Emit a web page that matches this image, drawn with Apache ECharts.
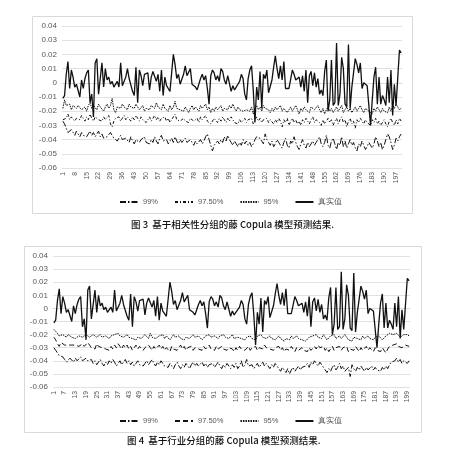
<!DOCTYPE html>
<html><head><meta charset="utf-8">
<script src="https://cdn.jsdelivr.net/npm/echarts@6/dist/echarts.min.js"></script>
<style>html,body{margin:0;padding:0;background:#fff;}#c1{position:absolute;left:0;top:0;width:453px;height:230px;}#c2{position:absolute;left:0;top:230px;width:453px;height:220px;}</style>
</head><body>
<div id="c1"></div><div id="c2"></div>
<script>
// ---- data ----
var categories = [];
for (var k = 1; k <= 200; k++) categories.push(String(k));
var legendNames = ['99%', '97.50%', '95%', '真实值'];
var yTicks = [0.04, 0.03, 0.02, 0.01, 0, -0.01, -0.02, -0.03, -0.04, -0.05, -0.06];

var actual = [
-0.011,-0.009,0.006,0.015,-0.004,0.009,0.004,-0.003,-0.001,0.000,
-0.010,0.002,-0.004,0.003,0.007,0.009,-0.014,-0.008,-0.024,0.014,
0.017,-0.008,-0.009,0.014,-0.003,0.010,0.002,0.004,-0.001,0.001,
-0.003,-0.002,0.001,-0.003,0.014,-0.002,-0.001,0.004,0.010,0.003,
0.002,-0.006,-0.009,0.011,-0.014,0.009,0.005,-0.002,0.006,0.005,
0.007,-0.005,0.004,0.008,0.009,0.001,0.006,-0.006,0.009,-0.009,
0.004,-0.002,-0.004,-0.006,-0.007,0.020,0.013,0.003,0.006,-0.001,
0.000,0.006,0.012,0.005,0.004,0.010,-0.001,-0.002,-0.003,-0.005,
-0.006,0.003,0.006,0.002,0.005,-0.004,-0.015,0.005,0.009,0.007,
0.002,0.005,0.001,0.010,0.008,0.002,-0.001,0.005,0.004,-0.006,
-0.002,-0.005,-0.004,-0.001,0.001,0.006,0.003,-0.008,-0.012,0.003,
0.009,0.012,-0.005,-0.028,-0.003,-0.012,0.008,-0.018,0.006,0.003,
0.009,-0.007,-0.006,0.002,0.011,0.019,0.010,0.003,0.012,0.002,
0.015,-0.004,-0.003,-0.004,-0.003,0.009,0.006,0.002,0.001,0.004,
-0.003,0.005,-0.006,0.009,-0.014,0.005,0.008,-0.002,0.007,-0.003,
0.003,-0.008,-0.005,-0.009,0.008,0.016,-0.020,-0.012,0.016,-0.016,
-0.014,0.028,-0.016,-0.008,0.018,0.010,-0.015,-0.017,0.027,-0.018,
-0.003,-0.004,0.017,0.013,0.007,0.014,-0.004,0.000,-0.001,-0.002,
-0.003,-0.030,-0.012,0.004,0.011,-0.015,0.004,-0.015,-0.009,-0.012,
-0.016,0.004,-0.014,0.009,-0.023,-0.001,-0.016,-0.015,0.023,0.021
];

// Figure 3 (correlation grouping)
var corr95 = [
-0.018,-0.012,-0.016,-0.017,-0.015,-0.019,-0.016,-0.017,-0.018,-0.016,
-0.015,-0.019,-0.018,-0.017,-0.020,-0.016,-0.014,-0.018,-0.016,-0.017,
-0.019,-0.015,-0.017,-0.016,-0.020,-0.017,-0.015,-0.018,-0.016,-0.011,
-0.019,-0.021,-0.017,-0.016,-0.018,-0.015,-0.017,-0.016,-0.019,-0.015,
-0.017,-0.016,-0.018,-0.015,-0.017,-0.019,-0.018,-0.016,-0.020,-0.018,
-0.017,-0.019,-0.016,-0.015,-0.018,-0.014,-0.017,-0.016,-0.019,-0.015,
-0.018,-0.017,-0.020,-0.016,-0.019,-0.017,-0.013,-0.018,-0.017,-0.019,
-0.018,-0.020,-0.017,-0.019,-0.021,-0.018,-0.016,-0.019,-0.017,-0.018,
-0.020,-0.016,-0.018,-0.017,-0.015,-0.019,-0.017,-0.021,-0.018,-0.020,
-0.017,-0.019,-0.018,-0.016,-0.020,-0.018,-0.017,-0.019,-0.016,-0.018,
-0.015,-0.018,-0.020,-0.017,-0.019,-0.018,-0.020,-0.021,-0.019,-0.018,
-0.020,-0.017,-0.022,-0.018,-0.016,-0.019,-0.017,-0.020,-0.016,-0.018,
-0.017,-0.019,-0.021,-0.018,-0.020,-0.017,-0.019,-0.018,-0.016,-0.020,
-0.018,-0.017,-0.021,-0.019,-0.017,-0.020,-0.018,-0.016,-0.019,-0.022,
-0.018,-0.020,-0.017,-0.019,-0.018,-0.021,-0.017,-0.016,-0.019,-0.018,
-0.016,-0.019,-0.021,-0.018,-0.022,-0.019,-0.017,-0.020,-0.018,-0.021,
-0.019,-0.017,-0.020,-0.018,-0.016,-0.021,-0.019,-0.017,-0.020,-0.018,
-0.021,-0.019,-0.017,-0.020,-0.018,-0.016,-0.019,-0.021,-0.018,-0.017,
-0.020,-0.019,-0.022,-0.018,-0.020,-0.017,-0.019,-0.021,-0.018,-0.020,
-0.019,-0.021,-0.017,-0.020,-0.016,-0.018,-0.015,-0.017,-0.019,-0.018
];
var corr975 = [
-0.026,-0.027,-0.025,-0.022,-0.026,-0.024,-0.023,-0.027,-0.025,-0.024,
-0.026,-0.023,-0.025,-0.027,-0.024,-0.026,-0.022,-0.025,-0.027,-0.024,
-0.023,-0.026,-0.025,-0.027,-0.024,-0.026,-0.025,-0.023,-0.029,-0.031,
-0.027,-0.025,-0.026,-0.024,-0.027,-0.025,-0.023,-0.026,-0.024,-0.025,
-0.027,-0.024,-0.026,-0.023,-0.025,-0.027,-0.024,-0.026,-0.025,-0.028,
-0.026,-0.024,-0.027,-0.025,-0.023,-0.026,-0.024,-0.027,-0.025,-0.026,
-0.024,-0.027,-0.025,-0.028,-0.026,-0.024,-0.022,-0.026,-0.025,-0.027,
-0.028,-0.025,-0.027,-0.026,-0.028,-0.025,-0.024,-0.027,-0.026,-0.025,
-0.028,-0.024,-0.026,-0.025,-0.023,-0.027,-0.026,-0.029,-0.027,-0.025,
-0.026,-0.028,-0.025,-0.027,-0.024,-0.026,-0.028,-0.025,-0.027,-0.024,
-0.026,-0.028,-0.027,-0.029,-0.026,-0.028,-0.027,-0.025,-0.028,-0.026,
-0.027,-0.025,-0.029,-0.026,-0.024,-0.027,-0.025,-0.028,-0.026,-0.027,
-0.025,-0.028,-0.026,-0.027,-0.029,-0.026,-0.028,-0.025,-0.027,-0.031,
-0.026,-0.028,-0.025,-0.030,-0.027,-0.025,-0.028,-0.026,-0.029,-0.027,
-0.030,-0.026,-0.028,-0.025,-0.027,-0.029,-0.026,-0.024,-0.028,-0.026,
-0.025,-0.028,-0.030,-0.026,-0.029,-0.027,-0.025,-0.028,-0.026,-0.030,
-0.027,-0.025,-0.029,-0.026,-0.024,-0.028,-0.026,-0.031,-0.027,-0.025,
-0.029,-0.027,-0.032,-0.026,-0.028,-0.025,-0.027,-0.029,-0.026,-0.028,
-0.027,-0.030,-0.026,-0.028,-0.025,-0.029,-0.027,-0.030,-0.028,-0.026,
-0.029,-0.031,-0.027,-0.025,-0.028,-0.030,-0.026,-0.029,-0.025,-0.027
];
var corr99 = [
-0.027,-0.029,-0.032,-0.035,-0.036,-0.033,-0.035,-0.037,-0.034,-0.036,
-0.038,-0.035,-0.037,-0.036,-0.038,-0.036,-0.034,-0.037,-0.035,-0.038,
-0.037,-0.034,-0.038,-0.036,-0.039,-0.040,-0.038,-0.037,-0.035,-0.036,
-0.039,-0.038,-0.041,-0.039,-0.037,-0.040,-0.041,-0.039,-0.040,-0.042,
-0.038,-0.041,-0.043,-0.040,-0.039,-0.042,-0.040,-0.041,-0.038,-0.042,
-0.041,-0.043,-0.040,-0.042,-0.038,-0.041,-0.043,-0.039,-0.037,-0.041,
-0.042,-0.040,-0.043,-0.041,-0.039,-0.042,-0.038,-0.041,-0.043,-0.040,
-0.042,-0.041,-0.039,-0.042,-0.043,-0.040,-0.042,-0.044,-0.041,-0.043,
-0.042,-0.040,-0.043,-0.041,-0.038,-0.036,-0.040,-0.044,-0.048,-0.044,
-0.045,-0.041,-0.043,-0.040,-0.042,-0.038,-0.041,-0.037,-0.040,-0.042,
-0.044,-0.041,-0.043,-0.045,-0.042,-0.044,-0.040,-0.043,-0.041,-0.044,
-0.042,-0.045,-0.043,-0.040,-0.038,-0.037,-0.039,-0.041,-0.043,-0.036,
-0.040,-0.042,-0.044,-0.041,-0.045,-0.043,-0.040,-0.042,-0.044,-0.046,
-0.042,-0.039,-0.044,-0.046,-0.041,-0.043,-0.038,-0.042,-0.045,-0.047,
-0.043,-0.040,-0.044,-0.046,-0.042,-0.045,-0.043,-0.041,-0.044,-0.042,
-0.040,-0.038,-0.043,-0.045,-0.042,-0.037,-0.044,-0.046,-0.041,-0.039,
-0.043,-0.047,-0.042,-0.044,-0.038,-0.045,-0.041,-0.046,-0.043,-0.040,
-0.044,-0.042,-0.046,-0.048,-0.043,-0.045,-0.041,-0.044,-0.047,-0.045,
-0.042,-0.044,-0.046,-0.043,-0.038,-0.041,-0.045,-0.042,-0.047,-0.044,
-0.040,-0.036,-0.038,-0.042,-0.047,-0.044,-0.039,-0.041,-0.038,-0.036
];

// Figure 4 (industry grouping)
var ind95 = [
-0.016,-0.017,-0.019,-0.021,-0.022,-0.020,-0.021,-0.022,-0.020,-0.021,
-0.022,-0.021,-0.023,-0.022,-0.021,-0.020,-0.022,-0.021,-0.020,-0.021,
-0.022,-0.021,-0.020,-0.021,-0.022,-0.021,-0.020,-0.022,-0.023,-0.021,
-0.022,-0.023,-0.021,-0.022,-0.020,-0.021,-0.019,-0.021,-0.020,-0.022,
-0.021,-0.020,-0.022,-0.021,-0.023,-0.022,-0.024,-0.022,-0.021,-0.023,
-0.022,-0.020,-0.021,-0.023,-0.019,-0.022,-0.021,-0.023,-0.022,-0.021,
-0.022,-0.020,-0.023,-0.021,-0.022,-0.024,-0.022,-0.020,-0.022,-0.023,
-0.021,-0.023,-0.022,-0.024,-0.022,-0.021,-0.023,-0.022,-0.020,-0.022,
-0.023,-0.021,-0.022,-0.024,-0.023,-0.021,-0.022,-0.020,-0.022,-0.023,
-0.021,-0.022,-0.023,-0.021,-0.022,-0.020,-0.022,-0.021,-0.023,-0.022,
-0.020,-0.023,-0.024,-0.022,-0.021,-0.023,-0.022,-0.024,-0.022,-0.023,
-0.021,-0.023,-0.022,-0.024,-0.021,-0.022,-0.020,-0.022,-0.021,-0.023,
-0.022,-0.021,-0.023,-0.022,-0.024,-0.023,-0.021,-0.023,-0.022,-0.025,
-0.023,-0.022,-0.024,-0.021,-0.023,-0.022,-0.021,-0.023,-0.022,-0.024,
-0.023,-0.025,-0.024,-0.022,-0.023,-0.021,-0.022,-0.020,-0.022,-0.021,
-0.023,-0.020,-0.022,-0.024,-0.023,-0.021,-0.022,-0.020,-0.023,-0.022,
-0.021,-0.023,-0.022,-0.020,-0.022,-0.024,-0.023,-0.025,-0.022,-0.021,
-0.023,-0.022,-0.024,-0.021,-0.023,-0.022,-0.021,-0.023,-0.022,-0.024,
-0.022,-0.023,-0.021,-0.022,-0.024,-0.023,-0.021,-0.022,-0.019,-0.018,
-0.020,-0.021,-0.019,-0.020,-0.022,-0.021,-0.020,-0.021,-0.020,-0.021
];
var ind975 = [
-0.022,-0.024,-0.027,-0.029,-0.026,-0.025,-0.028,-0.029,-0.028,-0.029,
-0.028,-0.029,-0.028,-0.027,-0.029,-0.028,-0.027,-0.029,-0.028,-0.026,
-0.028,-0.030,-0.029,-0.031,-0.027,-0.029,-0.028,-0.030,-0.029,-0.031,
-0.030,-0.032,-0.029,-0.031,-0.028,-0.030,-0.027,-0.029,-0.031,-0.028,
-0.030,-0.028,-0.031,-0.029,-0.032,-0.030,-0.028,-0.031,-0.029,-0.030,
-0.032,-0.030,-0.031,-0.028,-0.030,-0.032,-0.029,-0.031,-0.030,-0.028,
-0.031,-0.029,-0.032,-0.030,-0.031,-0.033,-0.029,-0.031,-0.030,-0.032,
-0.030,-0.028,-0.031,-0.029,-0.032,-0.030,-0.031,-0.029,-0.032,-0.030,
-0.029,-0.031,-0.030,-0.032,-0.029,-0.031,-0.030,-0.028,-0.031,-0.030,
-0.032,-0.029,-0.031,-0.030,-0.029,-0.031,-0.030,-0.032,-0.030,-0.029,
-0.031,-0.033,-0.030,-0.032,-0.029,-0.031,-0.030,-0.032,-0.031,-0.029,
-0.032,-0.030,-0.031,-0.029,-0.032,-0.030,-0.029,-0.031,-0.028,-0.030,
-0.029,-0.031,-0.030,-0.032,-0.030,-0.031,-0.029,-0.032,-0.030,-0.033,
-0.031,-0.030,-0.032,-0.029,-0.031,-0.033,-0.030,-0.032,-0.031,-0.030,
-0.032,-0.031,-0.033,-0.030,-0.032,-0.031,-0.029,-0.031,-0.028,-0.030,
-0.031,-0.029,-0.032,-0.030,-0.033,-0.031,-0.029,-0.032,-0.030,-0.031,
-0.029,-0.032,-0.030,-0.031,-0.029,-0.033,-0.031,-0.030,-0.032,-0.029,
-0.031,-0.033,-0.030,-0.032,-0.031,-0.029,-0.032,-0.030,-0.031,-0.033,
-0.030,-0.032,-0.031,-0.033,-0.030,-0.032,-0.034,-0.031,-0.029,-0.030,
-0.028,-0.029,-0.027,-0.029,-0.028,-0.030,-0.029,-0.028,-0.027,-0.029
];
var ind99 = [
-0.030,-0.032,-0.034,-0.036,-0.035,-0.037,-0.039,-0.041,-0.040,-0.038,
-0.039,-0.041,-0.038,-0.040,-0.039,-0.037,-0.040,-0.039,-0.038,-0.040,
-0.041,-0.039,-0.042,-0.040,-0.043,-0.041,-0.039,-0.042,-0.044,-0.041,
-0.043,-0.040,-0.042,-0.039,-0.041,-0.044,-0.042,-0.040,-0.043,-0.041,
-0.039,-0.042,-0.040,-0.043,-0.041,-0.044,-0.042,-0.040,-0.043,-0.042,
-0.044,-0.042,-0.040,-0.043,-0.041,-0.039,-0.042,-0.044,-0.041,-0.043,
-0.040,-0.042,-0.044,-0.043,-0.045,-0.042,-0.044,-0.046,-0.043,-0.041,
-0.044,-0.046,-0.043,-0.045,-0.042,-0.044,-0.046,-0.043,-0.041,-0.044,
-0.042,-0.044,-0.043,-0.041,-0.044,-0.042,-0.045,-0.043,-0.044,-0.042,
-0.045,-0.043,-0.041,-0.044,-0.046,-0.043,-0.045,-0.042,-0.044,-0.046,
-0.043,-0.045,-0.042,-0.046,-0.044,-0.040,-0.045,-0.043,-0.039,-0.044,
-0.045,-0.043,-0.046,-0.044,-0.042,-0.045,-0.043,-0.041,-0.044,-0.042,
-0.044,-0.046,-0.043,-0.045,-0.042,-0.044,-0.046,-0.048,-0.045,-0.047,
-0.049,-0.046,-0.050,-0.047,-0.045,-0.048,-0.046,-0.044,-0.047,-0.045,
-0.046,-0.044,-0.042,-0.045,-0.041,-0.043,-0.040,-0.042,-0.044,-0.041,
-0.043,-0.045,-0.047,-0.049,-0.046,-0.048,-0.045,-0.043,-0.047,-0.045,
-0.042,-0.046,-0.044,-0.048,-0.047,-0.045,-0.052,-0.043,-0.046,-0.048,
-0.045,-0.047,-0.044,-0.046,-0.048,-0.045,-0.047,-0.046,-0.044,-0.047,
-0.045,-0.047,-0.046,-0.048,-0.045,-0.047,-0.044,-0.046,-0.043,-0.041,
-0.042,-0.040,-0.038,-0.041,-0.039,-0.042,-0.040,-0.041,-0.042,-0.040
];

var CAT_FONT = '"Liberation Sans", Arial, sans-serif';
var CJK_FONT = '"Noto Sans CJK SC", "Noto Sans", sans-serif';

function makeOption(cfg) {
  var styles = cfg.styles;
  var seriesData = cfg.series;
  var series = legendNames.map(function (n, i) {
    return {
      name: n, type: 'line', data: seriesData[i], symbol: 'none', showSymbol: false,
      animation: false, silent: true,
      lineStyle: { color: '#111', width: styles[i].w, type: styles[i].t, cap: 'butt' },
      itemStyle: { color: '#111' }
    };
  });
  return {
    animation: false,
    backgroundColor: '#fff',
    grid: { left: cfg.grid.left, right: cfg.grid.right, top: cfg.grid.top, bottom: cfg.grid.bottom, containLabel: false },
    legend: {
      data: legendNames, orient: 'horizontal', left: cfg.legendLeft, top: cfg.legendTop,
      itemWidth: 18, itemHeight: 8, itemGap: 16, selectedMode: false,
      itemStyle: { opacity: 0, borderWidth: 0 },
      textStyle: { color: '#595959', fontSize: 7.5, fontFamily: CAT_FONT }
    },
    xAxis: {
      type: 'category', data: categories, boundaryGap: true,
      axisLine: { lineStyle: { color: '#d9d9d9', width: 1 } },
      axisTick: { show: false },
      axisLabel: { interval: cfg.labelInterval, rotate: 90, fontSize: 6.8, color: '#595959', margin: 4, fontFamily: CAT_FONT }
    },
    yAxis: {
      type: 'value', min: -0.06, max: 0.04, interval: 0.01,
      axisLine: { show: false }, axisTick: { show: false },
      splitLine: { lineStyle: { color: '#d9d9d9', width: 0.8 } },
      axisLabel: { fontSize: 8, color: '#595959', margin: 5, fontFamily: CAT_FONT,
        formatter: function (v) { return String(+v.toFixed(2)); } }
    },
    graphic: [
      { type: 'rect', shape: cfg.frame, style: { fill: 'none', stroke: '#d9d9d9', lineWidth: 1 }, z: -1, silent: true },
      { type: 'text', left: cfg.capLeft, top: cfg.capTop, silent: true,
        style: { text: cfg.caption, fill: '#111', font: '500 9.5px ' + CJK_FONT } }
    ],
    series: series
  };
}

var c1 = echarts.init(document.getElementById('c1'), null, { renderer: 'canvas' });
c1.setOption(makeOption({
  series: [corr99, corr975, corr95, actual],
  styles: [{ w: 1, t: [6, 2, 1.5, 2] }, { w: 1, t: [3, 2, 1, 2] }, { w: 1, t: [1.5, 1] }, { w: 1.3, t: 'solid' }],
  grid: { left: 62, right: 51, top: 26, bottom: 62 },
  legendLeft: 114, legendTop: 193, labelInterval: 6,
  frame: { x: 32.5, y: 16.5, width: 380, height: 197 },
  caption: '图 3  基于相关性分组的藤 Copula 模型预测结果.',
  capLeft: 131, capTop: 220
}));

var c2 = echarts.init(document.getElementById('c2'), null, { renderer: 'canvas' });
c2.setOption(makeOption({
  series: [ind99, ind975, ind95, actual],
  styles: [{ w: 1, t: [6, 2, 1.5, 2] }, { w: 1, t: [5, 3] }, { w: 1, t: [1.5, 1] }, { w: 1.3, t: 'solid' }],
  grid: { left: 53, right: 43, top: 26, bottom: 63 },
  legendLeft: 114, legendTop: 182, labelInterval: 5,
  frame: { x: 24.5, y: 16.5, width: 397, height: 186 },
  caption: '图 4  基于行业分组的藤 Copula 模型预测结果.',
  capLeft: 127, capTop: 206
}));
</script>
</body></html>
